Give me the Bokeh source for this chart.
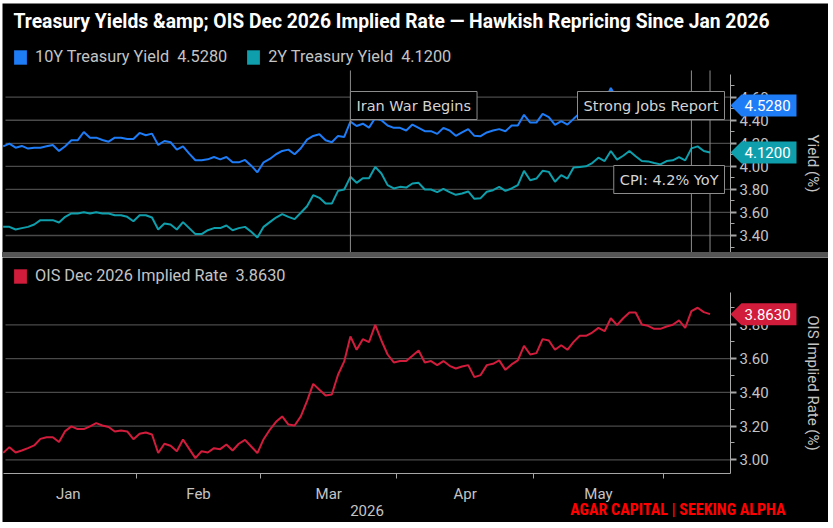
import pandas as pd
from bokeh.embed import file_html
from bokeh.layouts import column
from bokeh.models import (Div, FixedTicker, Label, Legend, LegendItem,
                          NumeralTickFormatter, PolyAnnotation, Range1d)
from bokeh.plotting import figure
from bokeh.resources import INLINE

# Trading sessions on the x axis (one point per weekday)
dates = pd.bdate_range("2026-01-01", "2026-06-10")

ten_y = [
    4.174, 4.197, 4.162, 4.177, 4.154, 4.162, 4.162, 4.174, 4.186, 4.134,
    4.174, 4.226, 4.226, 4.298, 4.249, 4.249, 4.229, 4.214, 4.249, 4.249,
    4.238, 4.238, 4.290, 4.270, 4.284, 4.186, 4.220, 4.209, 4.145, 4.174,
    4.110, 4.053, 4.053, 4.061, 4.081, 4.061, 4.081, 4.035, 4.035, 4.056,
    4.006, 3.948, 4.035, 4.064, 4.105, 4.134, 4.145, 4.105, 4.157, 4.232,
    4.264, 4.278, 4.226, 4.209, 4.264, 4.255, 4.388, 4.350, 4.370, 4.336,
    4.420, 4.400, 4.354, 4.334, 4.334, 4.311, 4.363, 4.334, 4.305, 4.305,
    4.282, 4.334, 4.311, 4.265, 4.294, 4.323, 4.265, 4.262, 4.294, 4.311,
    4.323, 4.305, 4.354, 4.354, 4.447, 4.380, 4.380, 4.455, 4.427, 4.360,
    4.392, 4.363, 4.412, 4.460, 4.500, 4.520, 4.580, 4.560, 4.680, 4.580,
    4.550, 4.600, 4.570, 4.520, 4.500, 4.490, 4.480, 4.500, 4.510, 4.540,
    4.500, 4.580, 4.600, 4.550, 4.528,
]

two_y = [
    3.475, 3.475, 3.452, 3.464, 3.475, 3.495, 3.533, 3.533, 3.533, 3.513,
    3.562, 3.591, 3.591, 3.602, 3.591, 3.602, 3.591, 3.591, 3.576, 3.576,
    3.562, 3.524, 3.576, 3.576, 3.556, 3.452, 3.504, 3.495, 3.452, 3.516,
    3.464, 3.412, 3.412, 3.446, 3.464, 3.464, 3.487, 3.446, 3.464, 3.475,
    3.432, 3.383, 3.475, 3.516, 3.556, 3.585, 3.562, 3.542, 3.597, 3.654,
    3.750, 3.727, 3.677, 3.677, 3.787, 3.799, 3.909, 3.857, 3.897, 3.897,
    3.995, 3.938, 3.837, 3.808, 3.822, 3.816, 3.851, 3.857, 3.799, 3.799,
    3.776, 3.805, 3.776, 3.753, 3.764, 3.782, 3.718, 3.724, 3.779, 3.793,
    3.822, 3.787, 3.808, 3.837, 3.961, 3.880, 3.894, 3.961, 3.952, 3.866,
    3.924, 3.894, 3.989, 3.995, 4.000, 4.029, 4.075, 4.046, 4.133, 4.058,
    4.092, 4.133, 4.087, 4.046, 4.043, 4.029, 4.017, 4.046, 4.052, 4.081,
    4.052, 4.156, 4.173, 4.133, 4.120,
]

ois = [
    3.041, 3.075, 3.043, 3.055, 3.069, 3.085, 3.124, 3.134, 3.134, 3.105,
    3.170, 3.198, 3.182, 3.182, 3.198, 3.217, 3.203, 3.194, 3.168, 3.174,
    3.168, 3.122, 3.154, 3.162, 3.150, 3.040, 3.095, 3.083, 3.051, 3.120,
    3.065, 3.010, 3.051, 3.043, 3.069, 3.063, 3.091, 3.055, 3.095, 3.118,
    3.079, 3.040, 3.122, 3.178, 3.225, 3.257, 3.209, 3.203, 3.257, 3.348,
    3.450, 3.415, 3.381, 3.387, 3.504, 3.583, 3.731, 3.652, 3.715, 3.697,
    3.800, 3.707, 3.624, 3.577, 3.585, 3.585, 3.616, 3.648, 3.577, 3.585,
    3.561, 3.585, 3.557, 3.541, 3.553, 3.561, 3.490, 3.502, 3.561, 3.569,
    3.589, 3.533, 3.565, 3.589, 3.675, 3.624, 3.632, 3.715, 3.707, 3.652,
    3.679, 3.652, 3.699, 3.735, 3.735, 3.754, 3.782, 3.762, 3.839, 3.798,
    3.839, 3.873, 3.873, 3.802, 3.794, 3.776, 3.776, 3.790, 3.800, 3.826,
    3.782, 3.881, 3.901, 3.875, 3.863,
]

month_labels = ["Jan", "Feb", "Mar", "Apr", "May"]
yield_ticks = [3.40, 3.60, 3.80, 4.00, 4.20, 4.40, 4.60]
yield_minor = [3.30, 3.50, 3.70, 3.90, 4.10, 4.30, 4.50, 4.70]
ois_ticks = [3.00, 3.20, 3.40, 3.60, 3.80]
ois_minor = [3.10, 3.30, 3.50, 3.70, 3.90]
events = [
    ("Iran War Begins", "2026-03-20"),
    ("Strong Jobs Report", "2026-06-05"),
    ("CPI: 4.2% YoY", "2026-06-10"),
]

BLUE = "#1f7cf7"
TEAL = "#0f9fac"
RED = "#d21c3c"
FONT = "Roboto"
AXIS_GREY = "#a6a6a6"
TEXT_GREY = "#c4c4c4"
GRID_GREY = "#4a4a4a"
NAN = float("nan")

x = list(range(len(dates)))
session = {d.strftime("%Y-%m-%d"): i for i, d in enumerate(dates)}

# month boundaries sit half a session before each month's first session
starts = [i for i in x if i == 0 or dates[i].month != dates[i - 1].month]
bounds = [s - 0.5 for s in starts] + [len(x) - 0.5]
centers = [(bounds[k] + bounds[k + 1]) / 2 for k in range(len(month_labels))]

W = 826
# whole canvas width in sessions; the plotting strip runs X_LO..X_HI and the
# value axis sits at X_HI, leaving room on the right for its labels
X_VIEW = (-0.114, 133.11)
X_LO, X_HI = 0.37, 117.3

# vertical extents of the two plotting strips
YIELD_VIEW, YIELD_LO, YIELD_HI = (3.2525, 5.413), 3.2525, 4.832
OIS_VIEW, OIS_LO, OIS_HI = (2.6284, 4.1988), 2.919, 3.99


def panel(height, y_view, lo, hi, ticks, minor, label, with_xaxis):
    p = figure(width=W, height=height, title=None,
               x_range=Range1d(*X_VIEW), y_range=Range1d(*y_view),
               output_backend="svg", toolbar_location=None,
               y_axis_location="right",
               x_axis_location="below" if with_xaxis else None,
               min_border=0, min_border_left=0, min_border_right=0,
               min_border_top=0, min_border_bottom=0,
               background_fill_color="black", border_fill_color="black",
               outline_line_color=None, margin=0)
    p.grid.visible = False

    # horizontal grid lines across the plotting strip only
    p.segment(x0=[X_LO] * len(ticks), x1=[X_HI] * len(ticks), y0=ticks, y1=ticks,
              line_color=GRID_GREY, line_width=1.3)

    ax = p.yaxis[0]
    ax.fixed_location = X_HI
    ax.bounds = (lo, min(hi, ticks[-1] + 0.2))
    ax.ticker = FixedTicker(ticks=ticks, minor_ticks=minor)
    ax.formatter = NumeralTickFormatter(format="0.00")
    ax.axis_line_color = AXIS_GREY
    ax.major_tick_line_color = AXIS_GREY
    ax.minor_tick_line_color = AXIS_GREY
    ax.major_tick_line_width = 2
    ax.major_tick_out = 6
    ax.major_tick_in = 0
    ax.minor_tick_out = 4
    ax.minor_tick_in = 0
    ax.major_label_standoff = 3
    ax.major_label_text_color = TEXT_GREY
    ax.major_label_text_font = FONT
    ax.major_label_text_font_size = "15px"
    ax.axis_label = label
    ax.axis_label_text_color = TEXT_GREY
    ax.axis_label_text_font = FONT
    ax.axis_label_text_font_size = "15px"
    ax.axis_label_text_font_style = "normal"
    ax.axis_label_standoff = 32
    return p


def callout(p, v, color, half):
    # price tag on the value axis: a pentagon pointing at the last value
    p.add_layout(PolyAnnotation(xs=[728, 739, 794, 794, 739], xs_units="screen",
                                ys=[v, v + half, v + half, v - half, v - half],
                                fill_color=color, fill_alpha=1.0, line_color=None))
    p.add_layout(Label(x=742, x_units="screen", y=v, text=f"{v:.4f}",
                       text_baseline="middle", text_align="left",
                       text_color="white", text_font=FONT, text_font_size="15px"))


def legend(p, entries, loc):
    items = []
    for name, color, last in entries:
        # swatch-only renderer: nothing is drawn in the plot, only its legend box
        r = p.quad(left=[NAN], right=[NAN], top=[NAN], bottom=[NAN],
                   fill_color=color, line_color=None)
        items.append(LegendItem(label=f"{name}\u00a0\u00a0{last:.4f}", renderers=[r]))
    p.add_layout(Legend(items=items, location=loc, orientation="horizontal",
                        glyph_width=16, glyph_height=18, label_standoff=7, spacing=18,
                        padding=0, margin=0, label_height=14,
                        background_fill_alpha=0, border_line_alpha=0,
                        label_text_color=TEXT_GREY, label_text_font=FONT,
                        label_text_font_size="16.3px"))


box_style = dict(y_units="screen", text_baseline="middle", padding=6,
                 background_fill_color="black", border_line_color="#8c8c8c",
                 text_color="#d4d4d4", text_font="DejaVu Sans",
                 text_font_size="14.5px")

# ---- yields panel ----
top = panel(249, YIELD_VIEW, YIELD_LO, YIELD_HI, yield_ticks, yield_minor,
            "Yield (%)", False)
top.line(x, ten_y, line_color=BLUE, line_width=2)
top.line(x, two_y, line_color=TEAL, line_width=2)

ev_x = [session[day] for _, day in events]
top.segment(x0=ev_x, x1=ev_x, y0=[YIELD_LO] * len(ev_x), y1=[YIELD_HI] * len(ev_x),
            line_color="#8c8c8c", line_width=1)

top.add_layout(Label(x=ev_x[0], y=147, text=events[0][0], text_align="left", **box_style))
top.add_layout(Label(x=722, x_units="screen", y=147, text=events[1][0],
                     text_align="right", **box_style))
top.add_layout(Label(x=722, x_units="screen", y=73, text=events[2][0],
                     text_align="right", **box_style))

callout(top, ten_y[-1], BLUE, 0.0954)
callout(top, two_y[-1], TEAL, 0.0954)

legend(top, [("10Y Treasury Yield", BLUE, ten_y[-1]),
             ("2Y Treasury Yield", TEAL, two_y[-1])], (10, 186))

top.add_layout(Label(x=11, y=231, x_units="screen", y_units="screen",
                     text="Treasury Yields &amp; OIS Dec 2026 Implied Rate \u2014 Hawkish Repricing Since Jan 2026",
                     text_color="white", text_font=FONT, text_font_style="bold",
                     text_font_size="19.3px", text_baseline="middle"))

# ---- OIS panel ----
bot = panel(265, OIS_VIEW, OIS_LO, OIS_HI, ois_ticks, ois_minor,
            "OIS Implied Rate (%)", True)
bot.line(x, ois, line_color=RED, line_width=2)
callout(bot, ois[-1], RED, 0.0652)
legend(bot, [("OIS Dec 2026 Implied Rate", RED, ois[-1])], (10, 237))

xa = bot.xaxis[0]
xa.fixed_location = OIS_LO
xa.bounds = (0.05, X_HI)
xa.ticker = FixedTicker(ticks=centers, minor_ticks=bounds[1:-1])
xa.major_label_overrides = {c: m for c, m in zip(centers, month_labels)}
xa.major_tick_out = 0
xa.major_tick_in = 0
xa.minor_tick_out = 5
xa.minor_tick_in = 0
xa.minor_tick_line_color = AXIS_GREY
xa.axis_line_color = AXIS_GREY
xa.major_label_standoff = 7
xa.major_label_text_color = TEXT_GREY
xa.major_label_text_font = FONT
xa.major_label_text_font_size = "15px"
xa.axis_label = str(dates[0].year)
xa.axis_label_standoff = -2
xa.axis_label_text_color = TEXT_GREY
xa.axis_label_text_font = FONT
xa.axis_label_text_font_size = "15px"
xa.axis_label_text_font_style = "normal"

bot.add_layout(Label(x=783, y=13, x_units="screen", y_units="screen",
                     text="AGAR CAPITAL | SEEKING ALPHA", text_align="right",
                     text_baseline="middle", text_color="#ff0000",
                     text_font="'Liberation Sans Narrow', 'Roboto Condensed', Roboto",
                     text_font_style="bold", text_font_size="16px"))

sep = Div(text="", width=W, height=5, margin=0,
          styles={"background-color": "#555555"})

page = column(top, sep, bot, spacing=0, margin=(3, 5, 6, 2))

open("out.html", "w").write(file_html(page, INLINE))
